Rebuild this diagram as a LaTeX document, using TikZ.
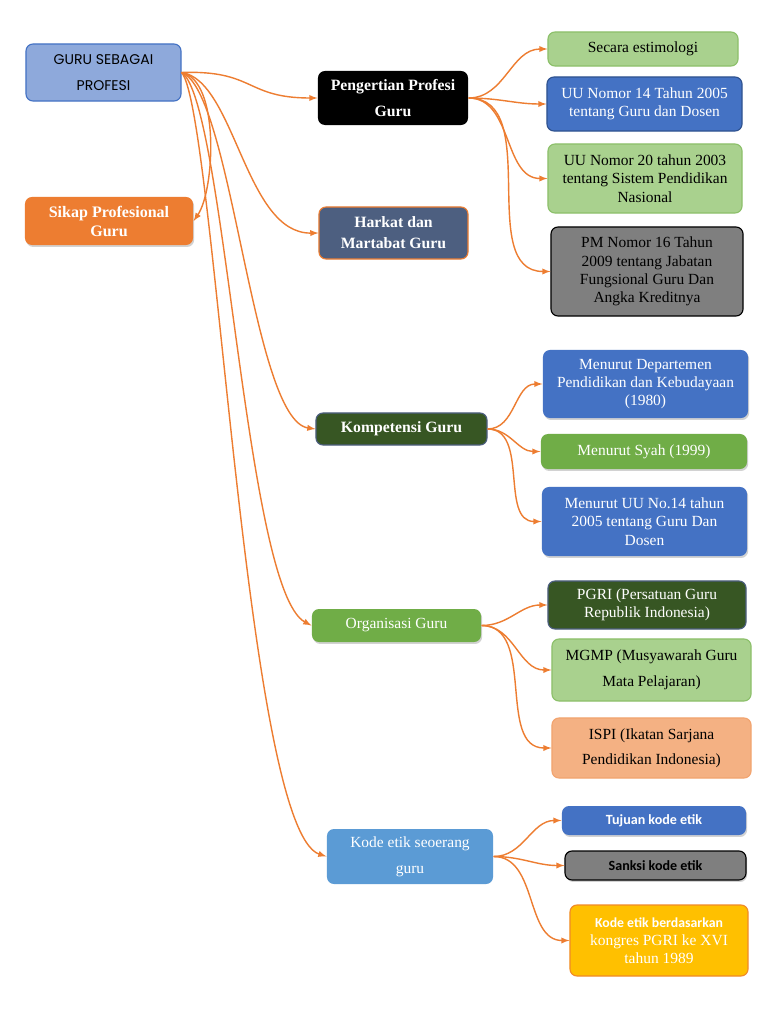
\documentclass[tikz,border=0pt]{standalone}
\usepackage{fontspec}
\setmainfont{Liberation Serif}
\newfontfamily\handfont{Poppins}
\newfontfamily\labelfont{Carlito}
\usetikzlibrary{shadows}

\definecolor{arrowor}{HTML}{ED7D31}
\definecolor{rootfill}{HTML}{8EA9DB}
\definecolor{rootline}{HTML}{4472C4}
\definecolor{darkgreen}{HTML}{375623}
\definecolor{midgreen}{HTML}{70AD47}
\definecolor{lightgreen}{HTML}{A9D18E}
\definecolor{greenline}{HTML}{8CC06A}
\definecolor{midblue}{HTML}{4472C4}
\definecolor{blueline}{HTML}{2F528F}
\definecolor{skyblue}{HTML}{5B9BD5}
\definecolor{slate}{HTML}{4D5F80}
\definecolor{midgray}{HTML}{7F7F7F}
\definecolor{salmon}{HTML}{F4B183}
\definecolor{gold}{HTML}{FFC000}

\begin{document}
\begin{tikzpicture}[x=0.025cm, y=0.025cm,
  box/.style={rounded corners=5pt, align=center, inner sep=1pt, line width=0.8pt,
    font=\fontsize{11}{13}\selectfont},
  shade/.style={drop shadow={opacity=0.35, shadow xshift=0.8pt, shadow yshift=-1.4pt}},
  link/.style={draw=arrowor, line width=1pt, ->, >=latex}]

\useasboundingbox [fill=white] (0,0) rectangle (768,-1024);

%%%%%%%%%%%%%%%%%%%%%%%%%%%%%%%%%%%%%%%%%%%%%%%%%%%%%%%%%%%%%%%%%%%%%%%%%%%%%%%%%%
\node [box, draw=rootline, fill=rootfill, minimum width=3.875cm, minimum height=1.425cm,
  font=\handfont\fontsize{10}{18}\selectfont] (root) at (103.5,-72.5) {GURU SEBAGAI\\PROFESI};
\node [box, shade, fill=arrowor, text=white, minimum width=4.2cm, minimum height=1.2cm,
  font=\fontsize{11.4}{13.5}\selectfont\bfseries] (sikap) at (109,-221) {Sikap Profesional\\Guru};

\node [box, fill=black, text=white, minimum width=3.75cm, minimum height=1.35cm,
  font=\fontsize{11.2}{18.5}\selectfont\bfseries] (peng) at (393,-98) {Pengertian Profesi\\Guru};
\node [box, draw=arrowor, fill=slate, text=white, minimum width=3.725cm, minimum height=1.3cm,
  font=\fontsize{11.2}{15}\selectfont\bfseries] (harkat) at (393.5,-233) {Harkat dan\\Martabat Guru};
\node [box, draw=slate, fill=darkgreen, text=white, minimum width=4.275cm, minimum height=0.8cm,
  font=\fontsize{11.2}{13}\selectfont\bfseries] (komp) at (401.5,-429) {Kompetensi Guru};
\node [box, shade, fill=midgreen, text=white, minimum width=4.225cm, minimum height=0.825cm]
  (org) at (396.5,-625.5) {Organisasi Guru};
\node [box, fill=skyblue, text=white, minimum width=4.15cm, minimum height=1.375cm,
  font=\fontsize{11}{18.5}\selectfont] (kode) at (410,-856.5) {Kode etik seoerang\\guru};

%%%%%%%%%%%%%%%%%%%%%%%%%%%%%%%%%%%%%%%%%%%%%%%%%%%%%%%%%%%%%%%%%%%%%%%%%%%%%%%%%%
\node [box, draw=greenline, fill=lightgreen, minimum width=4.75cm, minimum height=0.85cm]
  (sec) at (643,-49) {Secara estimologi};
\node [box, draw=blueline, fill=midblue, text=white, minimum width=4.875cm, minimum height=1.35cm]
  (uu14) at (644.5,-104) {UU Nomor 14 Tahun 2005\\tentang Guru dan Dosen};
\node [box, draw=greenline, fill=lightgreen, minimum width=4.85cm, minimum height=1.725cm]
  (uu20) at (645,-178.5) {UU Nomor 20 tahun 2003\\tentang Sistem Pendidikan\\Nasional};
\node [box, draw=black, fill=midgray, minimum width=4.8cm, minimum height=2.225cm]
  (pm16) at (647,-271.5) {PM Nomor 16 Tahun\\2009 tentang Jabatan\\Fungsional Guru Dan\\Angka Kreditnya};

\node [box, shade, fill=midblue, text=white, minimum width=5.125cm, minimum height=1.7cm]
  (dep) at (645.5,-384) {Menurut Departemen\\Pendidikan dan Kebudayaan\\(1980)};
\node [box, shade, fill=midgreen, text=white, minimum width=5.15cm, minimum height=0.875cm]
  (syah) at (644,-451.5) {Menurut Syah (1999)};
\node [box, shade, fill=midblue, text=white, minimum width=5.125cm, minimum height=1.725cm]
  (uuno) at (644.5,-521.5) {Menurut UU No.14 tahun\\2005 tentang Guru Dan\\Dosen};

\node [box, draw=slate, fill=darkgreen, text=white, minimum width=4.95cm, minimum height=1.2cm]
  (pgri) at (647,-605) {PGRI (Persatuan Guru\\Republik Indonesia)};
\node [box, draw=greenline, fill=lightgreen, minimum width=4.975cm, minimum height=1.55cm,
  font=\fontsize{11}{18.5}\selectfont] (mgmp) at (651.5,-670) {MGMP (Musyawarah Guru\\Mata Pelajaran)};
\node [box, draw=arrowor!70, fill=salmon, minimum width=4.975cm, minimum height=1.5cm,
  font=\fontsize{11}{18}\selectfont] (ispi) at (651.5,-748) {ISPI (Ikatan Sarjana\\Pendidikan Indonesia)};

\node [box, shade, fill=midblue, text=white, minimum width=4.6cm, minimum height=0.725cm,
  font=\labelfont\fontsize{10}{12}\selectfont\bfseries] (tuj) at (654,-820.5) {Tujuan kode etik};
\node [box, shade, draw=black, fill=midgray, minimum width=4.525cm, minimum height=0.725cm,
  font=\labelfont\fontsize{10}{12}\selectfont\bfseries] (sank) at (655.5,-865.5) {Sanksi kode etik};
\node [box, draw=arrowor!80!gold, fill=gold, text=white, minimum width=4.45cm, minimum height=1.775cm]
  (kbd) at (659,-940.5) {{\labelfont\bfseries\fontsize{9.8}{12}\selectfont Kode etik berdasarkan}\\kongres PGRI ke XVI\\tahun 1989};

%%%%%%%%%%%%%%%%%%%%%%%%%%%%%%%%%%%%%%%%%%%%%%%%%%%%%%%%%%%%%%%%%%%%%%%%%%%%%%%%%%
\draw [link] (root.east) .. controls (255,-70) and (245,-98) .. (peng.west);
\draw [link] (root.east) .. controls (220,-80) and (215,-190) .. (sikap.east);
\draw [link] (root.east) .. controls (235,-80) and (245,-234) .. (harkat.west);
\draw [link] (root.east) .. controls (232,-90) and (252,-420) .. (komp.west);
\draw [link] (root.east) .. controls (225,-100) and (245,-590) .. (org.west);
\draw [link] (root.east) .. controls (215,-110) and (245,-830) .. (kode.west);

\draw [link] (peng.east) to [out=0, in=180] (sec.west);
\draw [link] (peng.east) to [out=0, in=180] (uu14.west);
\draw [link] (peng.east) to [out=0, in=180] (uu20.west);
\draw [link] (peng.east) to [out=0, in=180] (pm16.west);

\draw [link] (komp.east) to [out=0, in=180] (dep.west);
\draw [link] (komp.east) to [out=0, in=180] (syah.west);
\draw [link] (komp.east) to [out=0, in=180] (uuno.west);

\draw [link] (org.east) to [out=0, in=180] (pgri.west);
\draw [link] (org.east) to [out=0, in=180] (mgmp.west);
\draw [link] (org.east) to [out=0, in=180] (ispi.west);

\draw [link] (kode.east) to [out=0, in=180] (tuj.west);
\draw [link] (kode.east) to [out=0, in=180] (sank.west);
\draw [link] (kode.east) to [out=0, in=180] (kbd.west);

\end{tikzpicture}
\end{document}
